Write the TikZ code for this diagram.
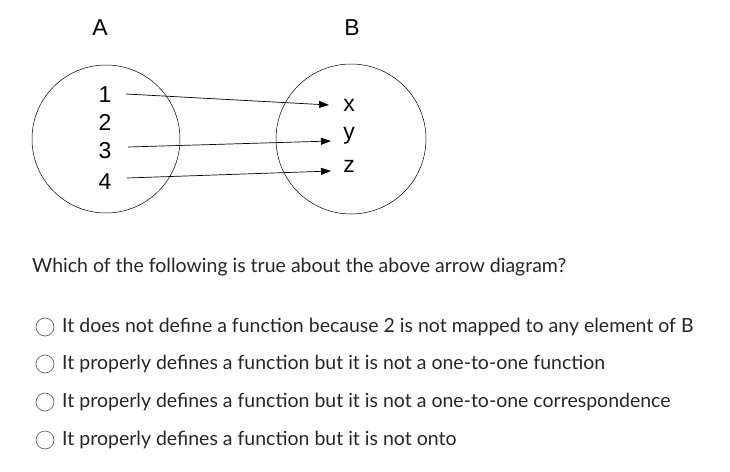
\documentclass[tikz,border=0pt]{standalone}
\usepackage{fontspec}
\setmainfont{Lato}
\newfontfamily\arialf{Liberation Sans}
\usetikzlibrary{arrows.meta}
\begin{document}
\begin{tikzpicture}[x=1pt,y=-1pt,
  elem/.style={font=\arialf\fontsize{23}{23}\selectfont,inner sep=0pt},
  mapar/.style={-{Triangle[length=10pt,width=7pt]},line width=0.7pt},
  qtext/.style={font=\fontsize{19.5}{20}\selectfont,anchor=west,inner sep=0pt,text=black!85},
  radio/.style={circle,draw=black!60,line width=0.7pt,minimum size=18pt,inner sep=0pt}]
\useasboundingbox (0,0) rectangle (730,471);
\node[elem] (A) at (100,28) {A};
\node[elem] (B) at (352,28) {B};
\draw[line width=0.5pt] (106,139) circle (74);
\draw[line width=0.5pt] (351,139) circle (75);
\node[elem] (n1) at (105,95) {1};
\node[elem] (n2) at (105,122) {2};
\node[elem] (n3) at (105,151) {3};
\node[elem] (n4) at (105,182) {4};
\node[elem] (bx) at (349,105) {x};
\node[elem] (by) at (349,136) {y};
\node[elem] (bz) at (349,166) {z};
\coordinate (s1) at (126,94);
\coordinate (s3) at (128,147);
\coordinate (s4) at (127,178);
\coordinate (t1) at (329,105);
\coordinate (t3) at (331,141);
\coordinate (t4) at (331,171);
\draw[mapar] (s1) -- (t1);
\draw[mapar] (s3) -- (t3);
\draw[mapar] (s4) -- (t4);
\node[qtext] (q) at (32,267) {Which of the following is true about the above arrow diagram?};
\node[radio] (r1) at (45,327) {};
\node[radio] (r2) at (45,364) {};
\node[radio] (r3) at (45,402) {};
\node[radio] (r4) at (45,440) {};
\node[qtext] (o1) at (62,327) {It does not define a function because 2 is not mapped to any element of B};
\node[qtext] (o2) at (62,364) {It properly defines a function but it is not a one-to-one function};
\node[qtext] (o3) at (62,402) {It properly defines a function but it is not a one-to-one correspondence};
\node[qtext] (o4) at (62,440) {It properly defines a function but it is not onto};
\end{tikzpicture}
\end{document}
